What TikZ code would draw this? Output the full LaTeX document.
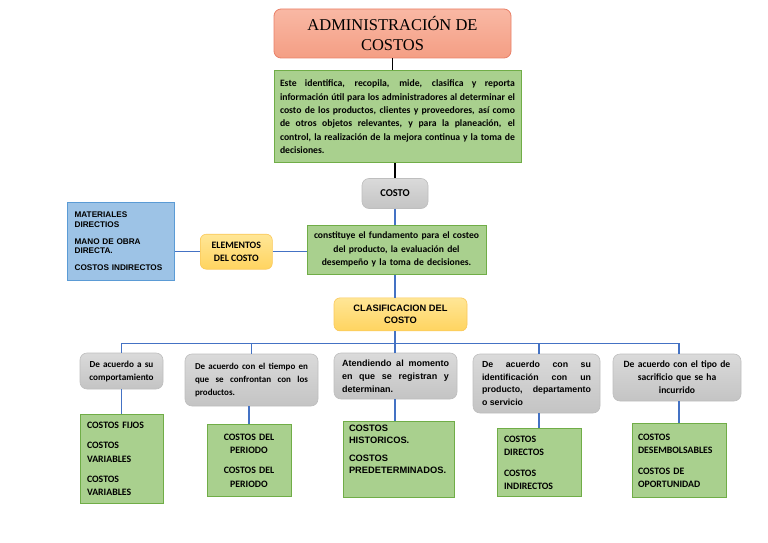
\documentclass[tikz,border=0pt]{standalone}
\usepackage{fontspec}
\setmainfont{Carlito}
\newfontfamily\arialfont{Liberation Sans}
\newfontfamily\serfont{Liberation Serif}
\usetikzlibrary{positioning}
\hyphenpenalty=10000
\exhyphenpenalty=10000

\definecolor{salmontop}{RGB}{249,184,164}
\definecolor{salmonbot}{RGB}{244,158,132}
\definecolor{salmonline}{RGB}{233,128,104}
\definecolor{greenfill}{RGB}{169,208,142}
\definecolor{greenline}{RGB}{112,173,71}
\definecolor{graytop}{RGB}{218,218,218}
\definecolor{graybot}{RGB}{196,196,196}
\definecolor{grayline}{RGB}{190,190,190}
\definecolor{yellowtop}{RGB}{255,230,150}
\definecolor{yellowbot}{RGB}{255,212,96}
\definecolor{yellowline}{RGB}{250,200,90}
\definecolor{bluefill}{RGB}{157,195,230}
\definecolor{blueline}{RGB}{91,155,213}
\definecolor{linkblue}{RGB}{68,114,196}

\begin{document}
\begin{tikzpicture}[
        x=1pt, y=-1pt,
        titlebox/.style={rectangle, rounded corners=7pt, draw=salmonline, line width=0.8pt, top color=salmontop, bottom color=salmonbot, minimum width=237pt, minimum height=49pt, align=center, font=\serfont\fontsize{16.5}{20}\selectfont},
        greenbox/.style={rectangle, draw=greenline, line width=0.8pt, fill=greenfill, inner xsep=6pt, font=\bfseries\fontsize{9.8}{13.5}\selectfont},
        graybox/.style={rectangle, rounded corners=7pt, draw=grayline, line width=0.6pt, top color=graytop, bottom color=graybot, inner xsep=6pt, font=\bfseries\fontsize{9.2}{13}\selectfont},
        yellowbox/.style={rectangle, rounded corners=6pt, draw=yellowline, line width=0.6pt, top color=yellowtop, bottom color=yellowbot, align=center, font=\bfseries\fontsize{9.8}{13}\selectfont},
        bluebox/.style={rectangle, draw=blueline, line width=0.8pt, fill=bluefill, inner xsep=7pt, align=left, font=\arialfont\bfseries\fontsize{8.2}{9.5}\selectfont},
        link/.style={draw=linkblue, line width=1.3pt},
        plain/.style={draw=black, line width=1.1pt}
    ]
        \useasboundingbox (0,0) rectangle (768,543);

        % top: title and description
        \node (admin) [titlebox] at (392.5,33.5) {ADMINISTRACIÓN DE\\COSTOS};
        \node (desc) [greenbox, text width=235pt, minimum height=92pt, align=justify, font=\bfseries\fontsize{9.7}{13.3}\selectfont, below=12pt of admin, xshift=5pt] {Este identifica, recopila, mide, clasifica y reporta\linebreak información útil para los administradores al determinar el\linebreak costo de los productos, clientes y proveedores, así como\linebreak de otros objetos relevantes, y para la planeación, el\linebreak control, la realización de la mejora continua y la toma de\linebreak decisiones.};

        % costo
        \node (costo) [graybox, minimum width=66pt, minimum height=30pt, font=\bfseries\fontsize{10.5}{12}\selectfont, below=15pt of desc, xshift=-2.5pt] {COSTO};
        \node (fund) [greenbox, text width=167pt, minimum height=49pt, align=center, font=\bfseries\fontsize{9.6}{13.5}\selectfont, below=16pt of costo, xshift=1.5pt] {constituye el fundamento para el costeo\\del producto, la evaluación del\\desempeño y la toma de decisiones.};

        % elementos
        \node (elem) [yellowbox, minimum width=72pt, minimum height=35pt, left=34pt of fund, yshift=-2pt] {ELEMENTOS\\DEL COSTO};
        \node (mat) [bluebox, text width=93pt, minimum height=78pt, left=25pt of elem, yshift=10.5pt] {MATERIALES\\DIRECTIOS\\[7.5pt]MANO DE OBRA\\DIRECTA.\\[7.5pt]COSTOS INDIRECTOS};

        % clasificacion
        \node (clasif) [yellowbox, minimum width=133pt, minimum height=33pt, font=\arialfont\bfseries\fontsize{9.3}{11.5}\selectfont, below=23pt of fund, xshift=4pt] {CLASIFICACION DEL\\COSTO};

        % criterios
        \node (g1) [graybox, text width=71pt, minimum height=36pt, align=center] at (121.5,371) {De acuerdo a su\\comportamiento};
        \node (g2) [graybox, inner xsep=10pt, text width=113pt, minimum height=52pt, align=justify, font=\bfseries\fontsize{9}{12.7}\selectfont] at (251.5,380) {De acuerdo con el tiempo en\linebreak que se confrontan con los\linebreak productos.};
        \node (g3) [graybox, inner xsep=8pt, text width=107pt, minimum height=46pt, align=justify, font=\arialfont\bfseries\fontsize{9}{13}\selectfont] at (395.5,376) {Atendiendo al momento\linebreak en que se registran y\linebreak determinan.};
        \node (g4) [graybox, inner xsep=9pt, text width=109pt, minimum height=59pt, align=justify, font=\arialfont\bfseries\fontsize{8.8}{12.5}\selectfont] at (536.5,383.5) {De acuerdo con su\linebreak identificación con un\linebreak producto, departamento\linebreak o servicio};
        \node (g5) [graybox, text width=116pt, minimum height=47pt, align=center, font=\bfseries\fontsize{9.6}{13}\selectfont] at (677,377.5) {De acuerdo con el tipo de\\sacrificio que se ha\\incurrido};

        % tipos de costos
        \node (b1) [greenbox, inner xsep=7pt, text width=69pt, minimum height=89pt, align=left, below=25pt of g1] {COSTOS FIJOS\\[6.5pt]COSTOS\\VARIABLES\\[6.5pt]COSTOS\\VARIABLES};
        \node (b2) [greenbox, text width=72pt, minimum height=72pt, align=center, below=18pt of g2, xshift=-2.5pt] {COSTOS DEL\\PERIODO\\[6.5pt]COSTOS DEL\\PERIODO};
        \node (b3) [greenbox, inner ysep=3pt, text width=99pt, text height=7pt, text depth=63pt, align=left, font=\arialfont\bfseries\fontsize{9.3}{12}\selectfont, below=22pt of g3, xshift=3pt] {COSTOS\\HISTORICOS.\\[6pt]COSTOS\\PREDETERMINADOS.};
        \node (b4) [greenbox, inner xsep=7pt, text width=70pt, minimum height=68pt, align=left, below=15pt of g4, xshift=2.5pt] {COSTOS\\DIRECTOS\\[7pt]COSTOS\\INDIRECTOS};
        \node (b5) [greenbox, text width=82pt, minimum height=74pt, align=left, below=22pt of g5, xshift=2pt] {COSTOS\\DESEMBOLSABLES\\[7pt]COSTOS DE\\OPORTUNIDAD};

        % black links on top
        \draw [plain] (admin.south) -- (admin.south |- desc.north);
        \draw [plain] (costo.north |- desc.south) -- (costo.north);

        % blue links
        \draw [link] (costo.south) -- (costo.south |- fund.north);
        \draw [link] (elem.west) -- (elem.west -| mat.east);
        \draw [link] (elem.east) -- (elem.east -| fund.west);
        \draw [link] (costo.south |- fund.south) -- (costo.south |- clasif.north);
        \draw [link] (costo.south |- clasif.south) -- ++(0,12) coordinate (bus);
        \draw [link] (g1.north) |- (bus) -| (b5.north |- g5.north);
        \draw [link] (g2.north) -- (g2.north |- bus);
        \draw [link] (bus) -- (bus |- g3.north);
        \draw [link] (b4.north |- g4.north) -- (b4.north |- bus);

        % links down to the types
        \draw [link] (g1.south) -- (g1.south |- b1.north);
        \draw [link] (b2.north |- g2.south) -- (b2.north);
        \draw [link] (bus |- g3.south) -- (bus |- b3.north);
        \draw [link] (b4.north |- g4.south) -- (b4.north);
        \draw [link] (b5.north |- g5.south) -- (b5.north);

    \end{tikzpicture}
\end{document}
